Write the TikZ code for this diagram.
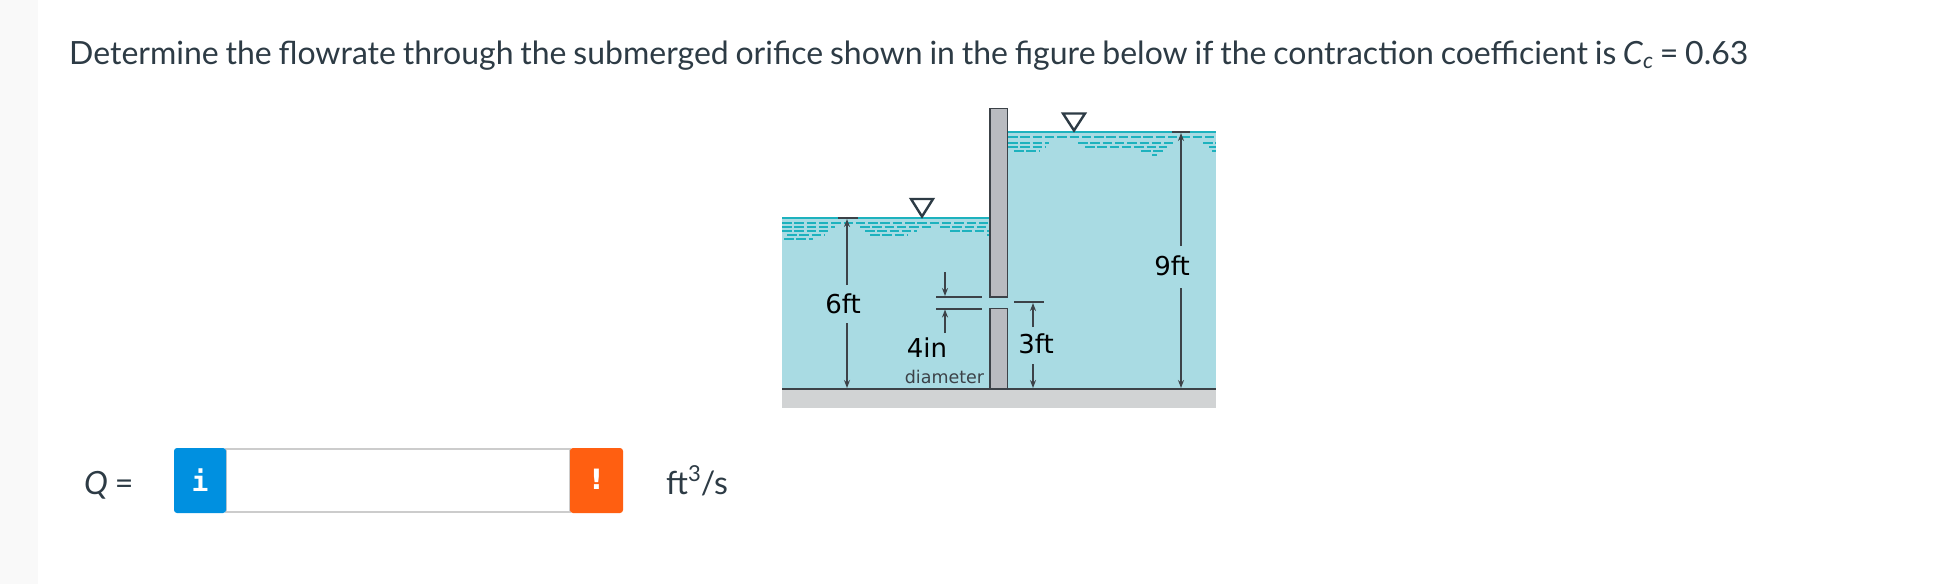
\documentclass[tikz,border=0pt]{standalone}
\usepackage{fontspec}
\setmainfont{Lato}[WordSpace=0.83]
\newfontfamily\lblfont{DejaVu Sans}
\newfontfamily\iconfont{DejaVu Sans Mono}
\usetikzlibrary{arrows.meta}
\definecolor{ink}{HTML}{2D3B45}
\definecolor{water}{HTML}{A9DBE3}
\definecolor{teal}{HTML}{1DB2BE}
\definecolor{wallc}{HTML}{B9BBC0}
\definecolor{edgec}{HTML}{3C4248}
\definecolor{groundc}{HTML}{D1D3D4}
\definecolor{blueb}{HTML}{0090E0}
\definecolor{orangeb}{HTML}{FF5F11}
\definecolor{stripc}{HTML}{F9F9F9}
\tikzset{
  x=1pt,y=-1pt,
  surf/.style={draw=teal,line width=2pt},
  ripple/.style={draw=teal,line width=2pt,dash pattern=on 9.5pt off 2.8pt},
  wallbox/.style={fill=wallc,draw=edgec,line width=1.8pt},
  tick/.style={draw=edgec,line width=2pt},
  dim/.style={draw=edgec,line width=1.6pt,-{Stealth[length=8pt,width=6pt]}},
  lvl/.style={draw=ink,line width=2.4pt,fill=white,line join=miter},
  lbl/.style={font=\lblfont\fontsize{26}{26}\selectfont,text=black,inner sep=0pt},
  body/.style={font=\fontsize{32}{38}\selectfont,text=ink,inner sep=0pt},
}
\begin{document}
\begin{tikzpicture}
\useasboundingbox (0,0) rectangle (1934,584);
\fill[white] (0,0) rectangle (1934,584);
\fill[stripc] (0,0) rectangle (38,584);
% title
\node[body,anchor=base west] (title) at (69,64) {Determine the flowrate through the submerged orifice shown in the figure below if the contraction coefficient is \textit{C}\raisebox{-0.3ex}{\fontsize{22}{22}\selectfont\textit{c}} = 0.63};
% water
\fill[water] (782,218) rectangle (1000,389);
\fill[water] (1000,132) rectangle (1216,389);
% ripples
\foreach \y/\a/\b in {
  137.3/1008/1216, 142.5/1008/1049, 142.5/1078/1173, 142.5/1203/1216,
  146.8/1008/1045, 146.8/1085/1167, 146.8/1209/1216, 151/1014/1040, 151/1141/1163, 151/1212/1216, 155/1152/1157,
  222.7/782/990, 226.7/782/835, 226.7/860/932, 226.7/940/990,
  230.7/782/830, 230.7/865/917, 230.7/950/990, 234.7/787/825, 234.7/870/908, 234.7/987/990, 238.7/784/813}
  {\draw[ripple] (\a,\y) -- (\b,\y);}
\draw[surf] (782,218) -- (990,218);
\draw[surf] (1008,132) -- (1216,132);
% ground
\fill[groundc] (782,389) rectangle (1216,408);
% wall
\draw[wallbox] (990,389) -- (990,308.5) -- (1007.5,308.5) -- (1007.5,389);
\draw[wallbox] (990,108.5) rectangle (1007.5,297);
\draw[draw=edgec,line width=2.2pt] (782,389) -- (1216,389);
% free surface marks
\draw[lvl] (1063,113.5) -- (1085,113.5) -- (1074,130.5) -- cycle;
\draw[lvl] (911,199) -- (933,199) -- (922,216.5) -- cycle;
% labels
\node[lbl] (six) at (843,304) {6ft};
\node[lbl] (nine) at (1172,266) {9ft};
\node[lbl] (three) at (1036,344) {3ft};
\node[lbl] (four) at (927,348) {4in};
\node[font=\lblfont\fontsize{17.5}{18}\selectfont,text=edgec,inner sep=0pt] (diam) at (944.5,377) {diameter};
% dimension ends
\coordinate (sixtop) at (847,219);
\coordinate (sixa) at (847,285);
\coordinate (sixb) at (847,323);
\coordinate (sixbot) at (847,388);
\coordinate (ninetop) at (1181,133);
\coordinate (ninea) at (1181,246);
\coordinate (nineb) at (1181,288);
\coordinate (ninebot) at (1181,388);
\coordinate (thrtop) at (1033,303);
\coordinate (thra) at (1033,327);
\coordinate (thrb) at (1033,364);
\coordinate (thrbot) at (1033,388);
\coordinate (orit) at (945,296);
\coordinate (orita) at (945,272);
\coordinate (orib) at (945,309.5);
\coordinate (oriba) at (945,333);
\draw[tick] (838,218) -- (858,218);
\draw[tick] (1172,132) -- (1190,132);
\draw[tick] (1014,302) -- (1044,302);
\draw[tick] (936,297) -- (982,297);
\draw[tick] (936,308.5) -- (982,308.5);
\draw[dim] (sixa) -- (sixtop);
\draw[dim] (sixb) -- (sixbot);
\draw[dim] (ninea) -- (ninetop);
\draw[dim] (nineb) -- (ninebot);
\draw[dim] (thra) -- (thrtop);
\draw[dim] (thrb) -- (thrbot);
\draw[dim] (orita) -- (orit);
\draw[dim] (oriba) -- (orib);
% answer row
\node[body,anchor=base west] (q) at (84,494) {\textit{Q} =};
\draw[draw=black!20,line width=2pt,fill=white] (226,449) rectangle (570,512);
\fill[blueb,rounded corners=3pt] (226,448) -- (174,448) -- (174,513) -- (226,513) -- cycle;
\fill[orangeb,rounded corners=3pt] (570,448) -- (623,448) -- (623,513) -- (570,513) -- cycle;
\node[font=\iconfont\bfseries\fontsize{28}{28}\selectfont,text=white,inner sep=0pt] (info) at (200,480) {i};
\node[font=\lblfont\bfseries\fontsize{28}{28}\selectfont,text=white,inner sep=0pt] (warn) at (596.5,479) {!};
\node[body,anchor=base west] (unit) at (666,494) {ft\raisebox{0.75ex}{\fontsize{22}{22}\selectfont 3}/s};
\end{tikzpicture}
\end{document}
